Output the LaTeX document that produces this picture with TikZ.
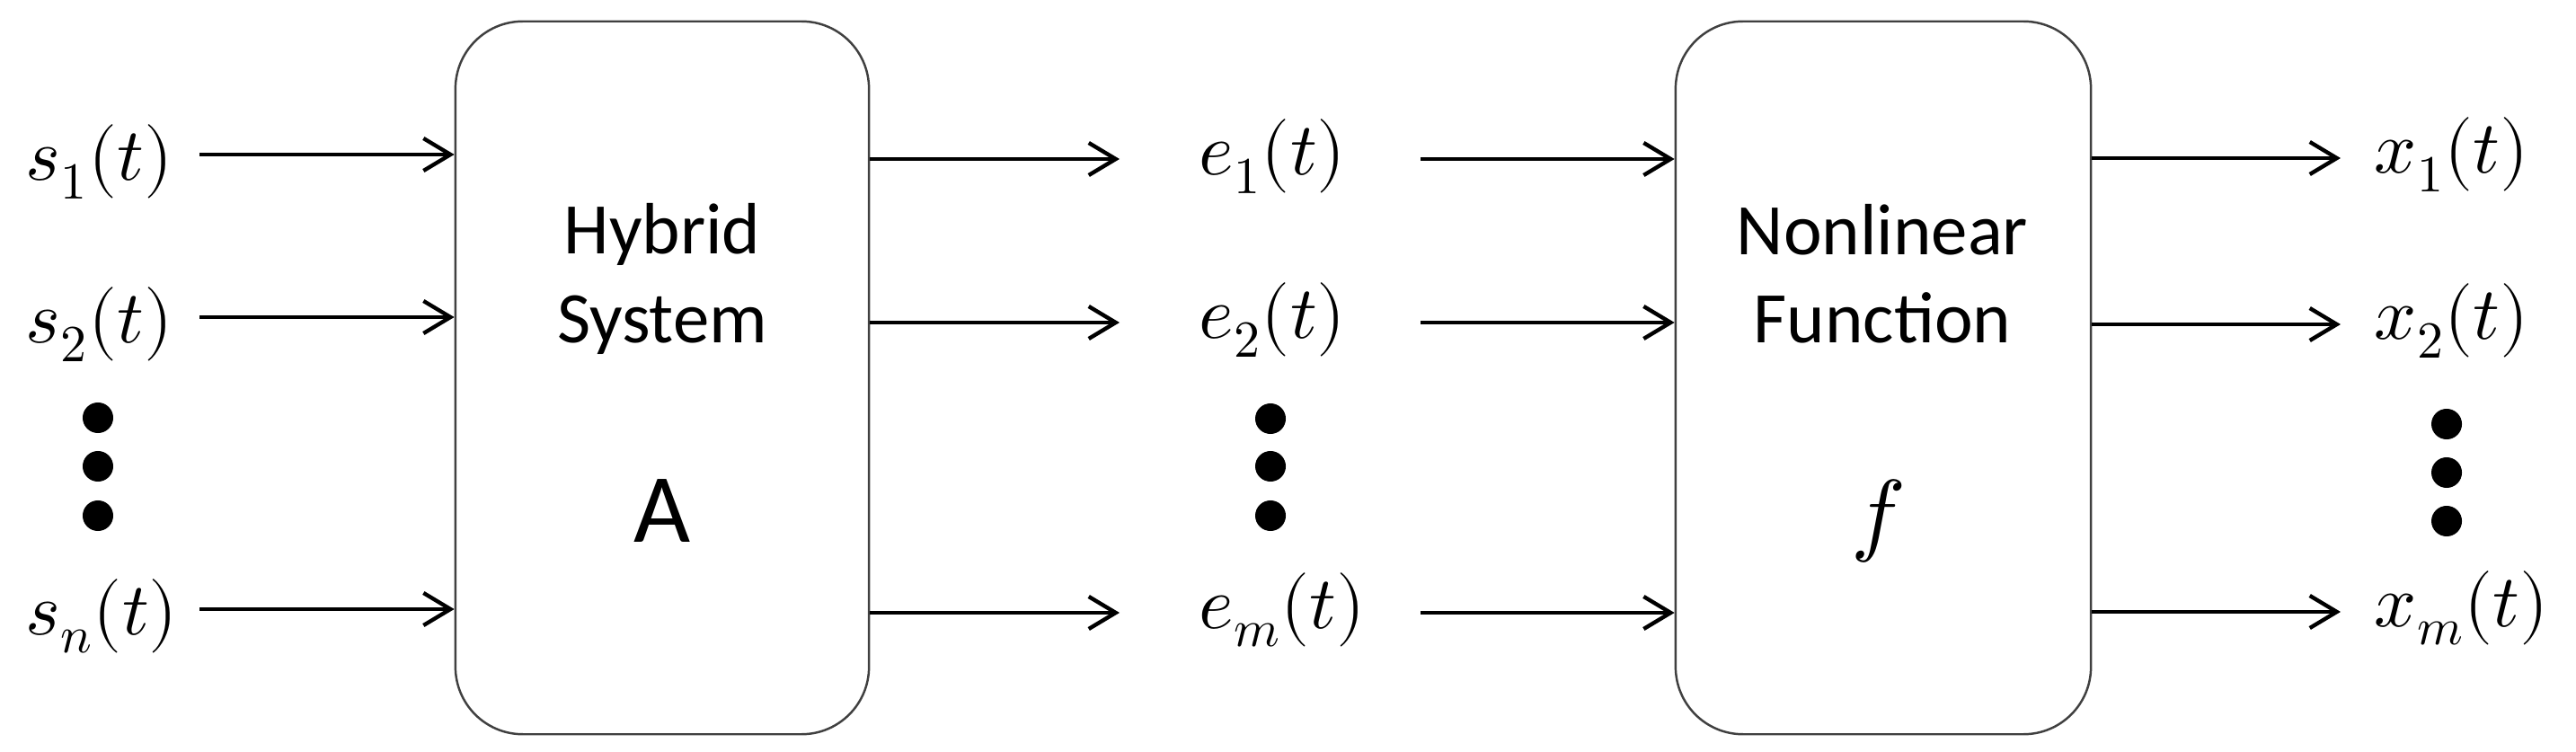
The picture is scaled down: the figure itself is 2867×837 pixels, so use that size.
\documentclass[tikz,border=0pt]{standalone}
\usepackage{fontspec}
\usepackage{unicode-math}
\newfontfamily\calib{Carlito}
\usetikzlibrary{arrows.meta,calc}
\begin{document}
\begin{tikzpicture}[x=0.01cm,y=-0.01cm,
  lbl/.style={anchor=west,inner sep=0pt,font=\fontsize{23.5}{28}\selectfont},
  blk/.style={draw=black!75,line width=0.7pt,rounded corners=0.75cm,minimum width=4.6cm,minimum height=7.93cm,inner sep=0pt},
  txt/.style={anchor=base,inner sep=0pt,font=\calib\fontsize{23}{27}\selectfont},
  big/.style={anchor=base,inner sep=0pt,font=\calib\fontsize{31}{36}\selectfont},
  mbig/.style={anchor=base,inner sep=0pt,font=\fontsize{29}{34}\selectfont},
  dot/.style={circle,fill=black,inner sep=0pt,minimum size=0.34cm},
  arr/.style={-{Straight Barb[length=0.3cm,width=0.36cm]},line width=1.25pt}]
\useasboundingbox (0,0) rectangle (2867,837);
% blocks
\node[blk] (A) at (737,420.5) {};
\node[blk,minimum width=4.62cm] (F) at (2096,420.5) {};
% block texts
\node[txt] (A1) at (737,283) {Hybrid};
\node[txt] (A2) at (737,382) {System};
\node[big] (A3) at (737,603) {A};
\node[txt] (F1) at (2095,284) {Nonlinear};
\node[txt] (F2) at (2095,382) {Function};
\node[mbig] (F3) at (2090,605) {$f$};
% labels
\node[lbl] (s1) at (28,180) {$s_1(t)$};
\node[lbl] (s2) at (28,361) {$s_2(t)$};
\node[lbl] (sn) at (28,686) {$s_n(t)$};
\node[lbl] (e1) at (1334,174) {$e_1(t)$};
\node[lbl] (e2) at (1334,356) {$e_2(t)$};
\node[lbl] (em) at (1334,679) {$e_m(t)$};
\node[lbl] (x1) at (2642,172) {$x_1(t)$};
\node[lbl] (x2) at (2642,357) {$x_2(t)$};
\node[lbl] (xm) at (2642,677) {$x_m(t)$};
% dots
\node[dot] (ds1) at (109,465) {};
\node[dot] (ds2) at (109,519) {};
\node[dot] (ds3) at (109,574) {};
\node[dot] (de1) at (1414,466) {};
\node[dot] (de2) at (1414,519) {};
\node[dot] (de3) at (1414,574) {};
\node[dot] (dx1) at (2723,472) {};
\node[dot] (dx2) at (2723,526) {};
\node[dot] (dx3) at (2723,580) {};
% inputs
\foreach \n in {s1,s2,sn}{
  \draw[arr] ($(\n.west)+(194,-8)$) -- ($(\n.west -| A.west)+(0,-8)$);
}
% A outputs and F inputs
\foreach \n in {e1,e2,em}{
  \draw[arr] ($(\n.west -| A.east)+(0,3)$) -- ($(\n.west)+(-88,3)$);
  \draw[arr] ($(\n.west)+(247,3)$) -- ($(\n.west -| F.west)+(0,3)$);
}
% F outputs
\foreach \n in {x1,x2,xm}{
  \draw[arr] ($(\n.west -| F.east)+(0,4)$) -- ($(\n.west)+(-37,4)$);
}
\end{tikzpicture}
\end{document}
